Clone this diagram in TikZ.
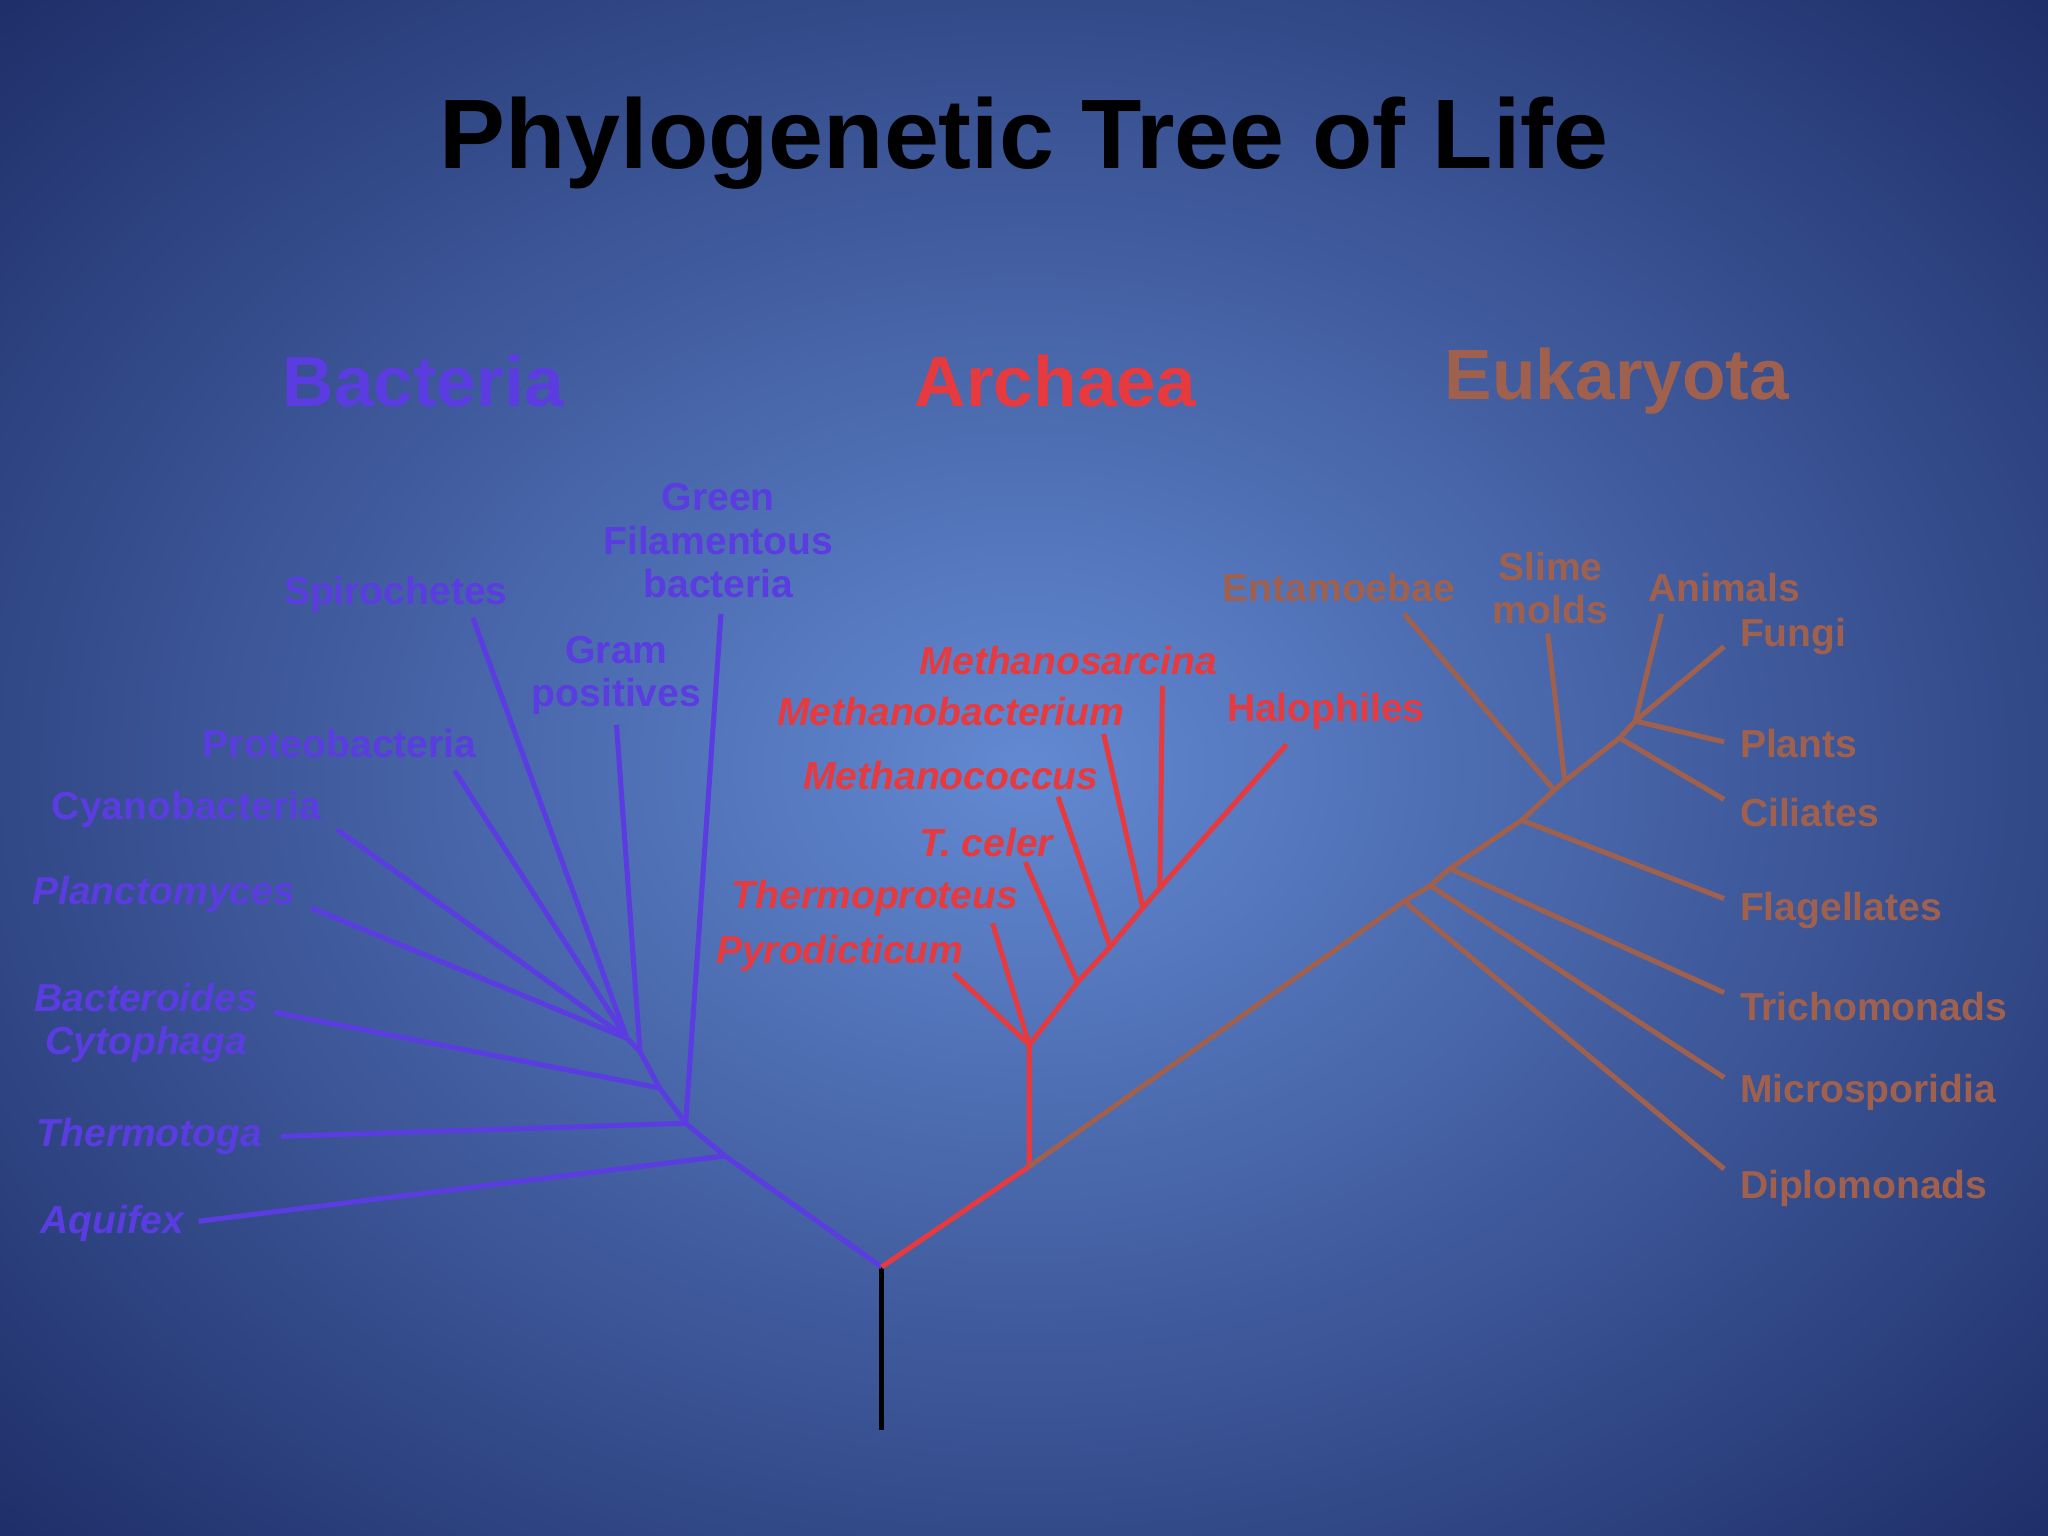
\documentclass[tikz,border=0pt]{standalone}
\usepackage{fontspec}
\setmainfont{Liberation Sans}
\begin{document}
\begin{tikzpicture}[x=0.01cm,y=-0.01cm,
  bac/.style={draw=bcol,line width=1.1pt},
  arc/.style={draw=acol,line width=1.1pt},
  euk/.style={draw=ecol,line width=1.1pt},
  lab/.style={font=\bfseries\fontsize{8.5}{9.4}\selectfont,align=center,inner sep=1pt},
  dom/.style={font=\bfseries\fontsize{15.5}{18}\selectfont}]
\definecolor{bcol}{HTML}{5A3CE0}
\definecolor{acol}{HTML}{E63A3E}
\definecolor{ecol}{HTML}{A0604E}
\definecolor{bgin}{HTML}{6289D2}
\definecolor{bgout}{HTML}{1F2F6A}
\useasboundingbox (0,0) rectangle (1568,1176);
\shade[inner color=bgin,outer color=bgout,shading=radial] (-300,-250) rectangle (1868,1426);
\node[font=\bfseries\fontsize{21.5}{24}\selectfont] (title) at (784,110) {Phylogenetic Tree of Life};
\node[dom,text=bcol] (tb) at (324,292) {Bacteria};
\node[dom,text=acol] (ta) at (808,292) {Archaea};
\node[dom,text=ecol] (te) at (1238,292) {Eukaryota};
% tree coordinates
\coordinate (r0) at (675,1095);
\coordinate (r) at (675,970);
\draw[black,line width=1.1pt] (r0) -- (r);
% Bacteria
\coordinate (b1) at (555,885); \coordinate (b2) at (525,860);
\coordinate (b3) at (505,833); \coordinate (b4) at (490,805);
\coordinate (b5) at (480,795);
\draw[bac] (r) -- (b1) -- (b2) -- (b3) -- (b4) -- (b5);
\tikzset{blab/.style={lab,text=bcol,font=\bfseries\itshape\fontsize{8.5}{9.4}\selectfont}}
\node[blab,anchor=east] (aq) at (145,937) {Aquifex};
\node[blab,anchor=east] (th) at (205,870) {Thermotoga};
\node[blab] (bc) at (112,783) {Bacteroides\\Cytophaga};
\node[blab,anchor=east] (pl) at (230,685) {Planctomyces};
\node[lab,text=bcol,anchor=east] (cy) at (250,620) {Cyanobacteria};
\node[lab,text=bcol] (pr) at (260,569) {Proteobacteria};
\node[lab,text=bcol] (sp) at (303,455) {Spirochetes};
\node[lab,text=bcol] (gp) at (472,517) {Gram\\positives};
\node[lab,text=bcol] (gf) at (550,414) {Green\\Filamentous\\bacteria};
\draw[bac] (b1) -- (152,935);
\draw[bac] (b2) -- (215,870);
\draw[bac] (b2) -- (552,470);
\draw[bac] (b3) -- (210,775);
\draw[bac] (b4) -- (472,555);
\draw[bac] (b5) -- (238,695);
\draw[bac] (b5) -- (258,635);
\draw[bac] (b5) -- (348,590);
\draw[bac] (b5) -- (362,473);
% Archaea
\coordinate (a1) at (788,893); \coordinate (a2) at (788,800);
\coordinate (a3) at (825,752); \coordinate (a4) at (850,725);
\coordinate (a5) at (875,695); \coordinate (a6) at (888,680);
\draw[arc] (r) -- (a1) -- (a2) -- (a3) -- (a4) -- (a5) -- (a6) -- (985,570);
\draw[arc] (a2) -- (730,745);
\draw[arc] (a2) -- (760,707);
\draw[arc] (a3) -- (785,660);
\draw[arc] (a4) -- (810,610);
\draw[arc] (a5) -- (845,562);
\draw[arc] (a6) -- (890,525);
\tikzset{alab/.style={lab,text=acol,font=\bfseries\itshape\fontsize{8.5}{9.4}\selectfont}}
\node[alab] (py) at (643,730) {Pyrodicticum};
\node[alab] (tp) at (670,688) {Thermoproteus};
\node[alab] (tc) at (755,645) {T. celer};
\node[alab] (mc) at (728,594) {Methanococcus};
\node[alab] (mb) at (728,545) {Methanobacterium};
\node[alab] (ms) at (818,506) {Methanosarcina};
\node[lab,text=acol] (ha) at (1015,545) {Halophiles};
% Eukaryota
\coordinate (e1) at (1075,690); \coordinate (e2) at (1095,678);
\coordinate (e3) at (1110,665); \coordinate (e4) at (1165,628);
\coordinate (e5) at (1190,605); \coordinate (e6) at (1198,598);
\coordinate (e7) at (1240,565); \coordinate (e8) at (1252,552);
\draw[euk] (a1) -- (e1) -- (e2) -- (e3) -- (e4) -- (e5) -- (e6) -- (e7) -- (e8);
\draw[euk] (e1) -- (1320,895);
\draw[euk] (e2) -- (1320,825);
\draw[euk] (e3) -- (1320,760);
\draw[euk] (e4) -- (1320,688);
\draw[euk] (e5) -- (1075,470);
\draw[euk] (e6) -- (1185,485);
\draw[euk] (e7) -- (1320,612);
\draw[euk] (e8) -- (1320,568);
\draw[euk] (e8) -- (1272,470);
\draw[euk] (e8) -- (1320,495);
\tikzset{elab/.style={lab,text=ecol,anchor=west}}
\node[elab] (dp) at (1328,910) {Diplomonads};
\node[elab] (mi) at (1328,836) {Microsporidia};
\node[elab] (tr) at (1328,771) {Trichomonads};
\node[elab] (fl) at (1328,697) {Flagellates};
\node[elab] (ci) at (1328,622) {Ciliates};
\node[elab] (pa) at (1328,569) {Plants};
\node[elab] (fu) at (1328,487) {Fungi};
\node[lab,text=ecol] (an) at (1320,450) {Animals};
\node[lab,text=ecol] (sm) at (1187,450) {Slime\\molds};
\node[lab,text=ecol] (en) at (1025,450) {Entamoebae};
\end{tikzpicture}
\end{document}
